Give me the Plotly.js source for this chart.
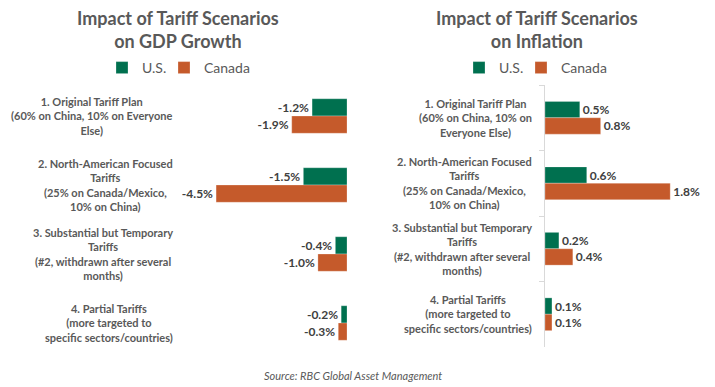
<!DOCTYPE html>
<html>
<head>
<meta charset="utf-8">
<script src="https://cdn.plot.ly/plotly-3.0.1.min.js"></script>
<style>html,body{margin:0;padding:0;background:#fff;}#chart{width:715px;height:387px;}</style>
</head>
<body>
<div id="chart"></div>
<script>
// ---- data ----
const scenarios = ["S1", "S2", "S3", "S4"];
const gdpLabels = [
  "1. Original Tariff Plan<br>(60% on China, 10% on Everyone<br>Else)",
  "2. North-American Focused<br>Tariffs<br>(25% on Canada/Mexico,<br>10% on China)",
  "3. Substantial but Temporary<br>Tariffs<br>(#2, withdrawn after several<br>months)",
  "4. Partial Tariffs<br>(more targeted to<br>specific sectors/countries)"
];
const inflLabels = [
  "1. Original Tariff Plan<br>(60% on China, 10% on<br>Everyone Else)",
  "2. North-American Focused<br>Tariffs<br>(25% on Canada/Mexico,<br>10% on China)",
  "3. Substantial but Temporary<br>Tariffs<br>(#2, withdrawn after several<br>months)",
  "4. Partial Tariffs<br>(more targeted to<br>specific sectors/countries)"
];
const gdpUS = [-1.2, -1.5, -0.4, -0.2];
const gdpCanada = [-1.9, -4.5, -1.0, -0.3];
const inflUS = [0.5, 0.6, 0.2, 0.1];
const inflCanada = [0.8, 1.8, 0.4, 0.1];
const seriesNames = ["U.S.", "Canada"];
const titleGDP = "Impact of Tariff Scenarios<br>on GDP Growth";
const titleInfl = "Impact of Tariff Scenarios<br>on Inflation";
const sourceText = "Source: RBC Global Asset Management";

// ---- style ----
const GREEN = "#00704F";
const ORANGE = "#C55A2B";
const GREY = "#595959";
const FONT = "Lato, 'Open Sans', sans-serif";

function barTrace(x, name, color, xa, ya, legend) {
  return {
    type: "bar", orientation: "h", x: x, y: scenarios, name: name,
    xaxis: xa, yaxis: ya, legend: legend, showlegend: true,
    marker: {color: color, line: {color: "rgba(255,255,255,0.5)", width: 0.5}},
    texttemplate: "%{x:.1f}%", textposition: "outside", cliponaxis: false,
    textfont: {family: FONT, size: 12, color: "#404040", weight: "bold"},
    hoverinfo: "skip"
  };
}

const data = [
  barTrace(gdpUS, seriesNames[0], GREEN, "x", "y", "legend"),
  barTrace(gdpCanada, seriesNames[1], ORANGE, "x", "y", "legend2"),
  barTrace(inflUS, seriesNames[0], GREEN, "x2", "y2", "legend3"),
  barTrace(inflCanada, seriesNames[1], ORANGE, "x2", "y2", "legend4")
];

const annotations = [];
gdpLabels.forEach((t, i) => annotations.push({
  text: "<b>" + t + "</b>", xref: "paper", yref: "y", x: 175/715, y: scenarios[i],
  xanchor: "right", yanchor: "middle", align: "center", showarrow: false,
  font: {family: FONT, size: 11, color: GREY}
}));
inflLabels.forEach((t, i) => annotations.push({
  text: "<b>" + t + "</b>", xref: "paper", yref: "y2", x: 534/715, y: scenarios[i],
  xanchor: "right", yanchor: "middle", align: "center", showarrow: false,
  font: {family: FONT, size: 11, color: GREY}
}));
annotations.push({
  text: "<b>" + titleGDP + "</b>", xref: "paper", yref: "paper", x: 0.249, y: 1 - 29/387,
  xanchor: "center", yanchor: "middle", align: "center", showarrow: false,
  font: {family: FONT, size: 18, color: GREY}
});
annotations.push({
  text: "<b>" + titleInfl + "</b>", xref: "paper", yref: "paper", x: 0.751, y: 1 - 29/387,
  xanchor: "center", yanchor: "middle", align: "center", showarrow: false,
  font: {family: FONT, size: 18, color: GREY}
});
annotations.push({
  text: "<i>" + sourceText + "</i>", xref: "paper", yref: "paper", x: 0.494, y: 1 - 375/387,
  xanchor: "center", yanchor: "middle", showarrow: false,
  font: {family: FONT, size: 11, color: GREY}
});

function legendAt(px) {
  return {
    orientation: "h", xanchor: "left", yanchor: "middle", x: px/715, y: 1 - 68/387,
    font: {family: FONT, size: 14, color: GREY}, bgcolor: "rgba(0,0,0,0)",
    itemclick: false, itemdoubleclick: false, itemwidth: 30
  };
}

const layout = {
  width: 715, height: 387,
  margin: {l: 0, r: 0, t: 0, b: 0},
  paper_bgcolor: "#fff", plot_bgcolor: "#fff",
  barmode: "group", bargap: 0.5, bargroupgap: 0,
  font: {family: FONT, color: GREY},
  xaxis: {domain: [187/715, 347/715], range: [-5.5, 0], visible: false, fixedrange: true},
  yaxis: {domain: [1 - 357.5/387, 1 - 81.5/387], anchor: "x", type: "category",
          autorange: "reversed", showticklabels: false, showline: false, ticks: "",
          showgrid: false, zeroline: false, fixedrange: true},
  xaxis2: {domain: [545/715, 705/715], range: [0, 2.3], visible: false, fixedrange: true},
  yaxis2: {domain: [1 - 347/387, 1 - 85/387], anchor: "x2", type: "category",
           autorange: "reversed", showticklabels: false, showline: true,
           linecolor: "#D9D9D9", linewidth: 1, ticks: "outside", tickson: "boundaries",
           ticklen: 5, tickcolor: "#D9D9D9", showgrid: false, zeroline: false, fixedrange: true},
  legend: legendAt(102),
  legend2: legendAt(164),
  legend3: legendAt(459),
  legend4: legendAt(521),
  annotations: annotations,
  showlegend: true
};

Plotly.newPlot("chart", data, layout, {displayModeBar: false, staticPlot: true});
</script>
</body>
</html>
